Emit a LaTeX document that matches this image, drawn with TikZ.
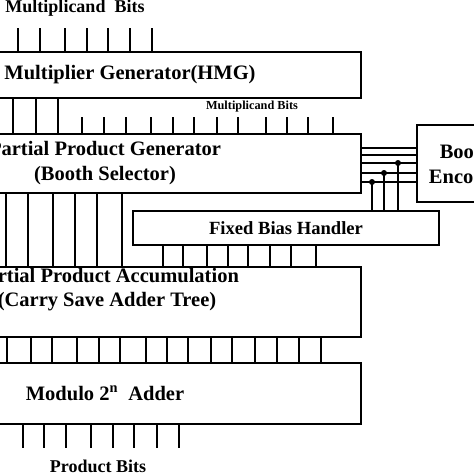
\documentclass[tikz,border=0pt]{standalone}
\usepackage{fontspec}
\setmainfont{Liberation Serif}
\usetikzlibrary{positioning}

\begin{document}
\begin{tikzpicture}[x=1pt, y=-1pt,
  box/.style={draw, line width=1.8pt, inner sep=0pt, outer sep=0pt, align=center,
    font=\fontsize{20.5}{25}\selectfont\bfseries},
  lbl/.style={inner sep=0pt, align=center, font=\fontsize{20.5}{24}\selectfont\bfseries},
  bit/.style={line width=1.4pt},
  tap/.style={circle, fill, inner sep=0pt, minimum size=6pt}]
\useasboundingbox (0,0) rectangle (474,474);
\clip (0,0) rectangle (474,474);
% blocks
\node[box, minimum width=462pt, minimum height=46pt] (hmg) at (130,75) {Multiplier Generator(HMG)};
\node[box, minimum width=512pt, minimum height=59pt] (ppg) at (105,163.5) {Partial Product Generator\\(Booth Selector)};
\node[box, minimum width=98pt, minimum height=77pt] (enc) at (466,163.5) {Booth\\Encoder};
\node[box, minimum width=306pt, minimum height=34pt, font=\fontsize{18.6}{22}\selectfont\bfseries] (fbh) at (286,228) {Fixed Bias Handler};
\node[box, minimum width=512pt, minimum height=70pt] (acc) at (105,302) {};
\node[lbl] (acctxt) at (107,290) {Partial Product Accumulation\\(Carry Save Adder Tree)};
\node[box, minimum width=512pt, minimum height=61pt] (mod) at (105,393.5) {Modulo 2\textsuperscript{n}\ \ Adder};
% bit labels
\node[lbl, font=\fontsize{18}{20}\selectfont\bfseries] (mcbits) at (75,8) {Multiplicand\ \ Bits};
\node[lbl, font=\fontsize{12.3}{14}\selectfont\bfseries] (mcbits2) at (252,107) {Multiplicand Bits};
\node[lbl, font=\fontsize{18}{20}\selectfont\bfseries] (pbits) at (98,466) {Product Bits};
\coordinate (mctop) at (0,28);
\coordinate (mcsub) at (0,117);
\coordinate (pbot) at (0,448);
% bit lines
\foreach \x in {18,40,65,87,108,130,152}
  \draw[bit] (\x,0 |- mctop) -- (\x,0 |- hmg.north);
\foreach \x in {13,36,58}
  \draw[bit] (\x,0 |- hmg.south) -- (\x,0 |- ppg.north);
\foreach \x in {82,104,126,151,173,194,217,238,266,287,308,333}
  \draw[bit] (\x,0 |- mcsub) -- (\x,0 |- ppg.north);
\foreach \x in {6,28,53,75,97,122}
  \draw[bit] (\x,0 |- ppg.south) -- (\x,0 |- acc.north);
\foreach \x in {163,183,207,228,248,270,291,316}
  \draw[bit] (\x,0 |- fbh.south) -- (\x,0 |- acc.north);
\foreach \x in {7,31,52,77,99,120,146,167,188,211,232,255,277,299,321}
  \draw[bit] (\x,0 |- acc.south) -- (\x,0 |- mod.north);
\foreach \x in {23,44,66,91,113,134,157,179}
  \draw[bit] (\x,0 |- mod.south) -- (\x,0 |- pbot);
% booth encoder wires
\foreach \y in {148,155,163,173,182}
  \draw[bit] (ppg.east |- 0,\y) -- (enc.west |- 0,\y);
\foreach \x/\y in {372/182,384/173,398/163} {
  \node[tap] (t\x) at (\x,\y) {};
  \draw[bit] (t\x.center) -- (t\x |- fbh.north);
}
\end{tikzpicture}
\end{document}
